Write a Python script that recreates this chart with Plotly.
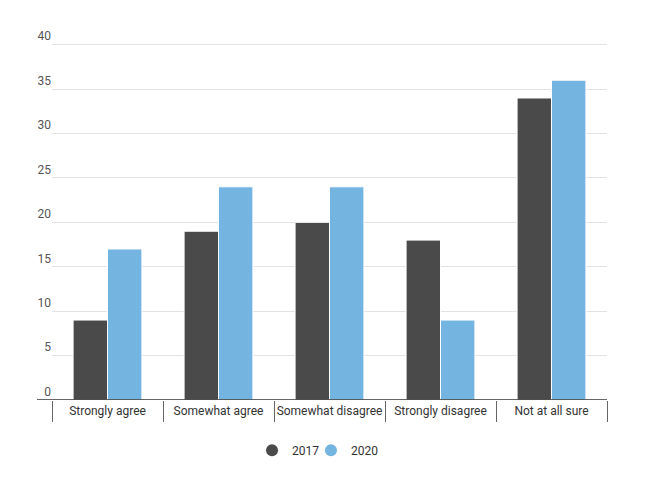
import plotly.graph_objects as go

categories = ["Strongly agree", "Somewhat agree", "Somewhat disagree", "Strongly disagree", "Not at all sure"]
values_2017 = [9, 19, 20, 18, 34]
values_2020 = [17, 24, 24, 9, 36]
y_ticks = [0, 5, 10, 15, 20, 25, 30, 35, 40]

dark = "#4a4a4a"
blue = "#74b4e1"

fig = go.Figure()
fig.add_trace(go.Bar(x=categories, y=values_2017, name="2017", marker=dict(color=dark, line=dict(color="white", width=1)), showlegend=False))
fig.add_trace(go.Bar(x=categories, y=values_2020, name="2020", marker=dict(color=blue, line=dict(color="white", width=1)), showlegend=False))
# legend entries with circle markers (one legend each so spacing can be set)
fig.add_trace(go.Scatter(x=[None], y=[None], mode="markers", name="2017", legend="legend",
                         marker=dict(color=dark, size=14, symbol="circle")))
fig.add_trace(go.Scatter(x=[None], y=[None], mode="markers", name="2020", legend="legend2",
                         marker=dict(color=blue, size=14, symbol="circle")))

legend_style = dict(orientation="h", y=-0.10, yanchor="top", xanchor="left",
                    font=dict(size=12, color="#333333"), itemsizing="constant",
                    bgcolor="rgba(0,0,0,0)")

fig.update_layout(
    width=642, height=484,
    margin=dict(l=44, r=43, t=34, b=92),
    paper_bgcolor="white", plot_bgcolor="white",
    font=dict(family="Roboto", size=12, color="#333333"),
    barmode="group", bargap=0.38, bargroupgap=0.0,
    showlegend=True,
    legend=dict(x=0.3604, **legend_style),
    legend2=dict(x=0.4666, **legend_style),
    xaxis=dict(type="category", showgrid=False, showline=False, zeroline=False, automargin=False,
               ticks="outside", tickson="boundaries", ticklen=21, tickcolor="#666666", tickwidth=1,
               tickangle=0, ticklabelstandoff=2,
               tickfont=dict(size=12, color="#333333")),
    yaxis=dict(range=[0, 40.3], tickvals=y_ticks, showgrid=True, gridcolor="#e3e3e3", gridwidth=1,
               zeroline=False, showline=False, ticks="", ticklabelposition="outside top", automargin=False,
               tickfont=dict(size=12, color="#555555")),
    shapes=[dict(type="line", xref="paper", yref="y", x0=-0.027, x1=1.0, y0=0, y1=0,
                 line=dict(color="#333333", width=1.5))],
)

fig.write_html("out.html")
